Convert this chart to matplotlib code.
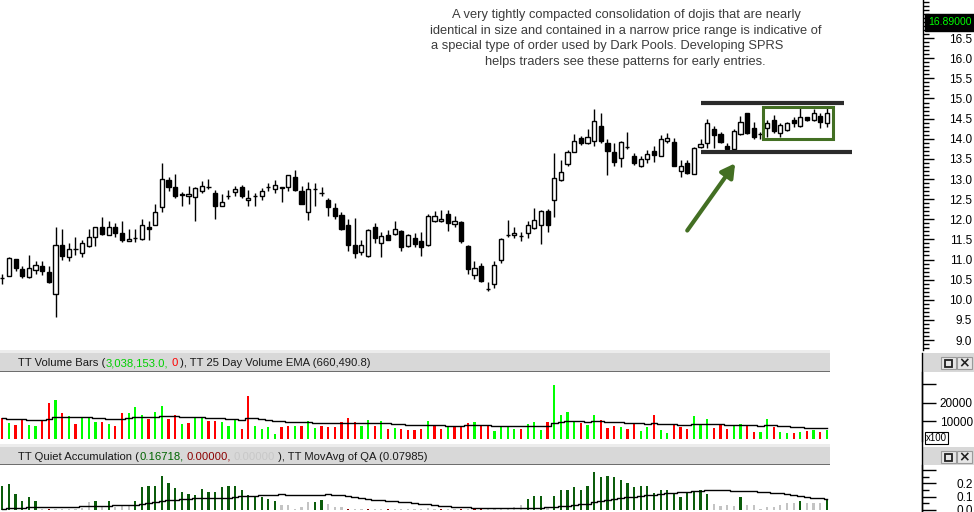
import numpy as np
import pandas as pd
import matplotlib
matplotlib.use('Agg')
import matplotlib.pyplot as plt
from matplotlib.patches import Rectangle
from matplotlib.ticker import MultipleLocator, FixedLocator, FixedFormatter, FuncFormatter
from matplotlib.transforms import blended_transform_factory

plt.rcParams['font.family'] = ['Liberation Sans', 'DejaVu Sans']

# daily candles
opens = [10.53, 10.60, 11.01, 10.77, 10.57, 10.74, 10.85, 10.69, 10.15, 11.36,
         11.06, 11.26, 11.16, 11.33, 11.56, 11.82, 11.61, 11.80, 11.66, 11.46,
         11.53, 11.51, 11.82, 11.85, 12.30, 12.97, 12.80, 12.63, 12.57, 12.55,
         12.69, 12.80, 12.65, 12.33, 12.57, 12.67, 12.80, 12.47, 12.58, 12.59,
         12.80, 12.76, 12.79, 12.79, 13.04, 12.70, 12.18, 12.76, 12.65, 12.48,
         12.28, 12.11, 11.86, 11.35, 11.19, 11.08, 11.82, 11.41, 11.61, 11.63,
         11.72, 11.33, 11.53, 11.46, 11.35, 11.96, 11.96, 12.12, 11.87, 11.93,
         11.33, 10.61, 10.85, 10.26, 10.40, 11.00, 11.60, 11.61, 11.59, 11.67,
         11.78, 11.85, 12.21, 12.47, 12.98, 13.37, 13.68, 14.03, 13.89, 13.94,
         14.32, 13.89, 13.66, 13.51, 13.80, 13.57, 13.33, 13.49, 13.70, 13.58,
         13.94, 13.91, 13.21, 13.39, 13.13, 13.80, 13.89, 14.23, 14.12, 13.83,
         13.75, 14.11, 14.63, 14.26, 14.12, 14.26, 14.46, 14.15, 14.22, 14.46,
         14.32, 14.55, 14.46, 14.57, 14.38]
highs = [10.65, 11.05, 11.01, 10.85, 11.10, 10.97, 10.97, 10.85, 11.81, 11.77,
         11.41, 11.56, 11.49, 11.76, 11.82, 12.05, 11.96, 11.91, 11.96, 11.76,
         11.76, 12.00, 11.96, 12.38, 13.39, 13.04, 13.13, 12.67, 12.83, 12.80,
         12.95, 13.00, 12.73, 12.62, 12.73, 12.83, 12.85, 12.73, 12.66, 12.77,
         12.91, 12.98, 12.81, 13.10, 13.23, 12.83, 12.93, 12.90, 12.79, 12.53,
         12.40, 12.18, 12.00, 12.03, 11.49, 11.76, 11.91, 11.68, 11.74, 11.96,
         11.74, 11.63, 11.67, 11.68, 12.14, 12.21, 12.22, 12.22, 12.07, 11.95,
         11.35, 10.97, 10.92, 10.45, 10.96, 11.53, 11.99, 11.80, 11.68, 11.95,
         12.28, 12.24, 12.25, 13.64, 13.47, 13.72, 14.11, 14.07, 14.23, 14.74,
         14.63, 13.99, 13.89, 13.95, 14.16, 13.64, 13.56, 13.72, 13.83, 14.09,
         14.15, 14.03, 13.47, 13.47, 13.79, 13.99, 14.49, 14.32, 14.18, 13.89,
         14.23, 14.56, 14.65, 14.42, 14.18, 14.46, 14.59, 14.38, 14.41, 14.55,
         14.77, 14.55, 14.75, 14.64, 14.77]
lows = [10.40, 10.58, 10.71, 10.54, 10.54, 10.63, 10.62, 10.42, 9.57, 10.98,
        10.96, 11.11, 11.06, 11.30, 11.33, 11.62, 11.60, 11.56, 11.44, 11.46,
        11.44, 11.49, 11.48, 11.85, 12.19, 12.71, 12.54, 12.34, 12.38, 11.95,
        12.65, 12.75, 12.01, 12.32, 12.51, 12.57, 12.54, 12.34, 12.32, 12.47,
        12.71, 12.66, 12.44, 12.71, 12.71, 12.37, 11.97, 12.34, 12.57, 12.07,
        12.00, 11.74, 11.20, 11.04, 11.11, 11.06, 11.41, 11.06, 11.48, 11.62,
        11.20, 11.31, 11.30, 11.08, 11.34, 11.93, 11.93, 11.72, 11.82, 11.41,
        10.64, 10.52, 10.44, 10.21, 10.30, 10.92, 11.56, 11.53, 11.47, 11.53,
        11.76, 11.39, 11.68, 12.05, 12.96, 13.33, 13.66, 13.84, 13.87, 13.83,
        13.89, 13.09, 13.33, 13.29, 13.74, 13.35, 13.29, 13.39, 13.43, 13.56,
        13.89, 13.33, 13.06, 13.13, 13.12, 13.78, 13.76, 13.76, 13.89, 13.73,
        13.73, 14.09, 14.12, 13.99, 13.99, 14.05, 14.15, 14.05, 14.20, 14.30,
        14.30, 14.45, 14.45, 14.27, 14.30]
closes = [10.53, 11.04, 10.78, 10.59, 10.79, 10.87, 10.71, 10.44, 11.36, 11.08,
          11.26, 11.26, 11.41, 11.56, 11.81, 11.63, 11.80, 11.66, 11.48, 11.51,
          11.53, 11.85, 11.76, 12.18, 13.00, 12.80, 12.59, 12.60, 12.62, 12.77,
          12.83, 12.80, 12.34, 12.44, 12.57, 12.75, 12.57, 12.52, 12.58, 12.70,
          12.80, 12.85, 12.78, 13.10, 12.73, 12.39, 12.75, 12.76, 12.65, 12.30,
          12.07, 11.77, 11.35, 11.15, 11.35, 11.74, 11.53, 11.58, 11.49, 11.76,
          11.30, 11.61, 11.39, 11.30, 12.07, 12.07, 12.00, 11.91, 11.96, 11.45,
          10.77, 10.79, 10.46, 10.26, 10.86, 11.51, 11.60, 11.66, 11.59, 11.86,
          11.98, 12.21, 11.85, 13.02, 13.18, 13.66, 13.95, 13.90, 14.04, 14.45,
          13.94, 13.70, 13.43, 13.91, 13.80, 13.39, 13.50, 13.62, 13.60, 13.99,
          14.03, 13.33, 13.33, 13.14, 13.76, 13.87, 14.38, 14.09, 13.91, 13.75,
          14.20, 14.42, 14.15, 14.05, 14.12, 14.40, 14.19, 14.34, 14.38, 14.38,
          14.55, 14.46, 14.64, 14.41, 14.64]

# volume in hundreds of shares, with bar colour (g = up, r = down)
volume_x100 = [11500, 9100, 7800, 10900, 7800, 7500, 10200, 20000, 21500, 14600,
               12700, 8400, 11500, 12000, 9600, 9600, 8400, 7300, 14600, 14600,
               17500, 13300, 10900, 15100, 18200, 11100, 13300, 8400, 9100, 11500,
               11500, 10200, 10200, 9600, 7300, 10600, 5600, 23700, 7300, 5600,
               6600, 2900, 6600, 7300, 7300, 7300, 10000, 6400, 7300, 6900,
               6900, 9600, 11800, 9300, 7300, 10600, 7300, 10000, 5600, 6400,
               5600, 5100, 5100, 5600, 10000, 7300, 5600, 6600, 6600, 7500,
               9100, 9600, 7800, 7300, 4600, 6900, 6900, 5600, 5600, 8400,
               9600, 5100, 9600, 29700, 13300, 15100, 9600, 9100, 7800, 13300,
               10600, 6400, 7300, 6600, 5600, 8700, 4600, 6600, 13300, 5100,
               3600, 7800, 6600, 5600, 12700, 7800, 11100, 6400, 7800, 5600,
               7500, 8400, 7500, 4200, 4200, 11100, 6600, 4200, 3600, 3600,
               4200, 4600, 5100, 4200, 5100]
volume_dir = ('rgrrggrrgr' 'grgggrgrrg' 'ggrggrrgrg' 'grrgggrrgg' 'ggrrgrggrr'
              'rrrrggrgrg' 'rrrrgrrgrr' 'rgrrggggrg' 'ggrggggrgg' 'rrrgrrggrg'
              'grrrgggrrr' 'ggrrggrggr' 'grgrg')

# quiet accumulation (g = dark green, r = dark red, x = grey)
qa = [0.184, 0.192, 0.122, 0.064, 0.096, 0.066, 0.010, 0.005, 0.010, 0.010,
      0.010, 0.010, 0.012, 0.059, 0.071, 0.021, 0.064, 0.021, 0.034, 0.041,
      0.064, 0.172, 0.177, 0.184, 0.259, 0.202, 0.164, 0.134, 0.122, 0.114,
      0.159, 0.134, 0.134, 0.172, 0.177, 0.177, 0.147, 0.114, 0.104, 0.096,
      0.084, 0.066, 0.039, 0.039, 0.005, 0.021, 0.059, 0.059, 0.076, 0.046,
      0.021, 0.021, 0.005, 0.010, 0.010, 0.005, 0.010, 0.010, 0.005, 0.010,
      0.010, 0.010, 0.010, 0.010, 0.015, 0.010, 0.005, 0.010, 0.010, 0.005,
      0.010, 0.005, 0.005, 0.005, 0.005, 0.005, 0.010, 0.021, 0.034, 0.084,
      0.104, 0.102, 0.021, 0.102, 0.147, 0.154, 0.172, 0.154, 0.177, 0.289,
      0.247, 0.259, 0.247, 0.229, 0.204, 0.172, 0.184, 0.184, 0.127, 0.147,
      0.152, 0.127, 0.096, 0.134, 0.134, 0.147, 0.117, 0.046, 0.029, 0.034,
      0.029, 0.096, 0.041, 0.034, 0.009, 0.021, 0.021, 0.034, 0.051, 0.051,
      0.066, 0.051, 0.051, 0.051, 0.076]
qa_kind = ('ggggggxrxx' 'xxxxgxgxxx' 'gggggggggg' 'gggggggggg' 'ggxxxxxggx'
           'xxrxxrxxrx' 'xxxxxxrxxr' 'xrrxxxxxxg' 'ggxggggggg' 'gggggggggg'
           'gggggggxxx' 'xgxxxxxxxx' 'gxxxg')
qa_period = 30

last_price = 16.89
annot_lines = ["A very tightly compacted consolidation of dojis that are nearly",
               "identical in size and contained in a narrow price range is indicative of",
               "a special type of order used by Dark Pools. Developing SPRS",
               "helps traders see these patterns for early entries."]

W, H = 974, 512
STEP, X0 = 6.65, 2.3  # pixel spacing of the bars and centre of the first one


def frac(x0, y0, x1, y1):
    return [x0 / W, 1 - y1 / H, (x1 - x0) / W, (y1 - y0) / H]


def box(x0, y0, x1, y1, fc, ec='none', lw=0):
    fig.add_artist(Rectangle((x0 / W, 1 - y1 / H), (x1 - x0) / W, (y1 - y0) / H,
                             transform=fig.transFigure, fc=fc, ec=ec, lw=lw))


def right_axis(a):
    for s in ['top', 'left', 'bottom']:
        a.spines[s].set_visible(False)
    a.spines['right'].set_linewidth(1)
    a.xaxis.set_visible(False)
    a.yaxis.tick_right()
    a.set_facecolor('white')


fig = plt.figure(figsize=(W / 100, H / 100), dpi=100)
x = np.arange(len(opens))
o, h, l, c = map(np.array, (opens, highs, lows, closes))

# ---- price panel
ax = fig.add_axes(frac(0, 0, 923, 350))
ax.vlines(x, l, h, color='black', lw=1, zorder=2)
up = c >= o
ax.bar(x, np.abs(c - o), bottom=np.minimum(o, c), width=0.62,
       color=np.where(up, 'white', 'black'), edgecolor='black', lw=1, zorder=3)
ax.set_xlim((0 - X0) / STEP, (923 - X0) / STEP)
ax.set_ylim(8.752, 17.447)
right_axis(ax)
ax.yaxis.set_major_locator(MultipleLocator(0.5))
ax.yaxis.set_minor_locator(MultipleLocator(0.1))
# the last-price tag hides the 17.0 label
ax.yaxis.set_major_formatter(FuncFormatter(lambda v, p: '' if v > last_price else '%.1f' % v))
ax.tick_params(axis='y', which='major', length=8, width=1, pad=27.5, labelsize=8.5)
ax.tick_params(axis='y', which='minor', length=4, width=1)
for t in ax.get_yticklabels():
    t.set_horizontalalignment('right')

ax.annotate('16.89000', xy=(1, last_price),
            xycoords=blended_transform_factory(ax.transAxes, ax.transData),
            xytext=(4, 0), textcoords='offset points', ha='left', va='center',
            color='#00ff00', fontsize=7.5, zorder=6, annotation_clip=False,
            bbox=dict(boxstyle='square,pad=0.3', fc='black', ec='black'))

# consolidation markup
ax.hlines(14.88, 105.1, 126.6, color='#2b2b2b', lw=3, zorder=4)
ax.hlines(13.66, 105.1, 127.7, color='#2b2b2b', lw=3, zorder=4)
ax.add_patch(Rectangle((114.4, 13.99), 10.5, 0.80, fill=False, ec='#436f23', lw=2.2, zorder=4))
ax.annotate('', xy=(110.2, 13.39), xytext=(103.0, 11.72),
            arrowprops=dict(arrowstyle='-|>,head_length=0.8,head_width=0.45', lw=3,
                            color='#436f23', shrinkA=0, shrinkB=0))

fs_note = 9.3
fig.text(626 / W, 1 - 15 / H, annot_lines[0], ha='center', va='center', fontsize=fs_note, color='#3c3c3c')
fig.text(626 / W, 1 - 31 / H, annot_lines[1], ha='center', va='center', fontsize=fs_note, color='#3c3c3c')
fig.text(431 / W, 1 - 46.5 / H, annot_lines[2], ha='left', va='center', fontsize=fs_note, color='#3c3c3c')
fig.text(625 / W, 1 - 62 / H, annot_lines[3], ha='center', va='center', fontsize=fs_note, color='#3c3c3c')

# ---- panel headers
for top, bot in [(350, 372), (444, 465)]:
    box(0, top, 830, top + 3, '#ececec')
    box(0, top + 3, 830, bot, '#d8d8d8')
    box(0, bot - 1, 830, bot, '#6e6e6e')
    box(922, top + 3, 974, bot, '#d8d8d8')
    for bx, icon in [(941, 'sq'), (957, 'x')]:
        box(bx, top + 7, bx + 15, top + 19, '#e6e6e6', '#9a9a9a', 0.8)
        if icon == 'sq':
            box(bx + 4, top + 9.5, bx + 11, top + 16.5, 'none', '#202020', 1.3)
        else:
            fig.text((bx + 7.5) / W, 1 - (top + 13) / H, '\u00d7', ha='center', va='center',
                     fontsize=10, color='#202020', family='DejaVu Sans', weight='bold')
fig.add_artist(plt.Line2D([922 / W, 922 / W], [0, 1 - 353 / H], transform=fig.transFigure,
                          color='black', lw=1))

renderer = fig.canvas.get_renderer()


def header(y, pieces):
    px = 18
    for s, col in pieces:
        t = fig.text(px / W, 1 - y / H, s, ha='left', va='center', fontsize=8.15, color=col)
        px += t.get_window_extent(renderer=renderer).width


header(363, [('TT Volume Bars (', '#1a1a1a'), ('3,038,153.0,', '#00d000'), (' ', '#1a1a1a'),
             ('0', '#ff0000'), (' ), TT 25 Day Volume EMA (660,490.8)', '#1a1a1a')])
header(456.5, [('TT Quiet Accumulation (', '#1a1a1a'), ('0.16718,', '#006400'), (' ', '#1a1a1a'),
               ('0.00000,', '#8b0000'), (' ', '#1a1a1a'), ('0.00000', '#c8c8c8'),
               (' ), TT MovAvg of QA (0.07985)', '#1a1a1a')])

# ---- volume panel
av = fig.add_axes(frac(0, 372, 922, 441))
vcol = ['#00ff00' if d == 'g' else '#ff0000' for d in volume_dir]
av.bar(x, volume_x100, width=0.34, color=vcol, lw=0)
ema = pd.Series(volume_x100, dtype=float).ewm(span=25, adjust=False).mean()
av.plot(x, ema, color='black', lw=1, drawstyle='steps-mid')
av.set_xlim((0 - X0) / STEP, (922 - X0) / STEP)
px_per_unit = 18.3 / 10000
av.set_ylim(-(441 - 439.3) / px_per_unit, (439.3 - 372) / px_per_unit)
right_axis(av)
av.yaxis.set_major_locator(FixedLocator([10000, 20000, 30000]))
av.yaxis.set_major_formatter(FixedFormatter(['10000', '20000', '']))
av.tick_params(axis='y', length=10, width=1, pad=26.5, labelsize=8.5)
for t in av.get_yticklabels():
    t.set_horizontalalignment('right')
fig.text(926 / W, 1 - 438 / H, 'x100', ha='left', va='center', fontsize=7, color='black',
         bbox=dict(boxstyle='square,pad=0.15', fc='white', ec='black', lw=0.8))

# ---- quiet accumulation panel
aq = fig.add_axes(frac(0, 465, 922, 512))
qcol = {'g': '#0b5c0b', 'r': '#8b0000', 'x': '#c4c4c4'}
aq.bar(x, qa, width=0.34, color=[qcol[k] for k in qa_kind], lw=0)
qa_ma = pd.Series(qa).rolling(qa_period, min_periods=1).sum() / qa_period
aq.plot(x, qa_ma, color='black', lw=1, drawstyle='steps-mid')
aq.set_xlim((0 - X0) / STEP, (922 - X0) / STEP)
aq.set_ylim(-2 / 133, 45 / 133)
right_axis(aq)
aq.yaxis.set_major_locator(FixedLocator([0.0, 0.1, 0.2, 0.3]))
aq.yaxis.set_major_formatter(FixedFormatter(['0.0', '0.1', '0.2', '']))
aq.yaxis.set_minor_locator(FixedLocator([0.05, 0.15, 0.25]))
aq.tick_params(axis='y', which='major', length=10, width=1, pad=26.5, labelsize=8.5)
aq.tick_params(axis='y', which='minor', length=5, width=1)
for t in aq.get_yticklabels():
    t.set_horizontalalignment('right')

fig.savefig('out.png', dpi=100)
